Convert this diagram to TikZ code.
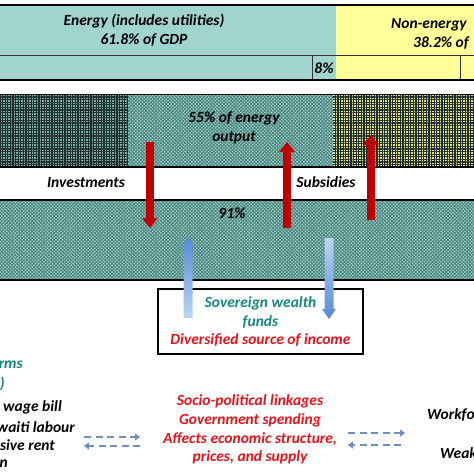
\documentclass[tikz,border=0pt]{standalone}
\usepackage{fontspec}
\setmainfont{Carlito}[BoldItalicFont={* Bold Italic}]
\usetikzlibrary{arrows.meta,positioning,patterns.meta}

\definecolor{energyteal}{HTML}{A2D4CF}
\definecolor{nonyellow}{HTML}{FFFF99}
\definecolor{gridteal}{HTML}{7FAFA9}
\definecolor{gridyellow}{HTML}{E6E28A}
\definecolor{checkteal}{HTML}{AAD8D2}
\definecolor{gridink}{HTML}{1E2C2B}
\definecolor{checkink}{HTML}{4A857F}
\definecolor{swfteal}{HTML}{17877C}
\definecolor{linkred}{HTML}{E3141C}
\definecolor{flowred}{HTML}{C00000}
\definecolor{lightblue}{HTML}{BCD5F4}
\definecolor{midblue}{HTML}{5689D4}
\definecolor{dashblue}{HTML}{6D8EC3}

\begin{document}
\begin{tikzpicture}[
    x=1pt, y=-1pt,
    lbl/.style={font=\fontsize{15.5}{18.8}\selectfont\bfseries\itshape, align=center, inner sep=0pt},
    gridfill/.style={preaction={fill=#1}, pattern={Hatch[angle=0,distance=2.6pt,line width=1.2pt]}, pattern color=gridink},
    checkfill/.style={preaction={fill=checkteal}, pattern={Hatch[angle=45,distance=2.4pt,line width=0.9pt]}, pattern color=checkink},
    redarrow/.style={draw=flowred, line width=7.5pt, -{Triangle[width=15pt,length=10pt]}},
    dashflow/.style={draw=dashblue, line width=2.2pt, dash pattern=on 7pt off 4.5pt, -{Triangle[width=7pt,length=5pt]}}
]
\useasboundingbox (0,0) rectangle (474,474);
\fill[white] (0,0) rectangle (474,474);

% GDP shares (top)
\fill[energyteal] (0,5) rectangle (336,80);
\fill[nonyellow] (336,5) rectangle (474,80);
\draw[line width=0.8pt, black!80] (0,55) -- (474,55);
\draw[line width=0.8pt, black!80] (312,55) -- (312,80);
\draw[line width=0.8pt, black!80] (460,55) -- (460,80);
\draw[line width=2pt] (0,5) -- (474,5);
\draw[line width=2.2pt] (0,80) -- (474,80);
\node[lbl] (energy) at (144,30) {Energy (includes utilities)\\61.8\% of GDP};
\node[lbl, anchor=west] (nonenergy) at (391,25) {Non-energy};
\node[lbl, anchor=west] (nonshare) at (413,43) {38.2\% of};
\node[lbl] (eight) at (324,68) {8\%};

% Output and flows (middle)
\path[gridfill=gridteal] (0,94) rectangle (128,167);
\path[checkfill] (128,94) rectangle (333,167);
\path[gridfill=gridyellow] (333,94) rectangle (474,167);
\path[checkfill] (0,200) rectangle (474,280);
\draw[line width=1pt] (0,94) -- (474,94);
\draw[line width=1.2pt] (0,167) -- (474,167);
\draw[line width=1.2pt] (0,200) -- (474,200);
\draw[line width=2pt] (0,280) -- (474,280);
\node[lbl] (output) at (234,127.5) {55\% of energy\\output};
\node[lbl] (invest) at (86,183) {Investments};
\node[lbl] (subsid) at (326,182) {Subsidies};
\node[lbl] (ninety) at (232,213) {91\%};

\coordinate (inv-top) at (150,142);
\coordinate (inv-bot) at (150,228);
\coordinate (sub-bot) at (287,228);
\coordinate (sub-top) at (287,142);
\coordinate (non-bot) at (371,220);
\coordinate (non-top) at (371,135);
\draw[redarrow] (inv-top) -- (inv-bot);
\draw[redarrow] (sub-bot) -- (sub-top);
\draw[redarrow] (non-bot) -- (non-top);

% Sovereign wealth funds
\node[lbl, draw, line width=1.2pt, fill=white, minimum width=205pt, minimum height=65pt] (swf) at (260.5,321.5)
  {\textcolor{swfteal}{Sovereign wealth}\\\textcolor{swfteal}{funds}\\\textcolor{linkred}{Diversified source of income}};

\coordinate (swf-in) at (188,318);
\coordinate (swf-out) at (329,238);
\shade[bottom color=lightblue, top color=midblue] (swf-in) ++(-4.5,0) -- ++(0,-71) -- ++(-2,0) -- ++(6.5,-10)
  -- ++(6.5,10) -- ++(-2,0) -- ++(0,71) -- cycle;
\shade[top color=lightblue, bottom color=midblue] (swf-out) ++(-4.5,0) -- ++(0,71) -- ++(-2.5,0) -- ++(7,10)
  -- ++(7,-10) -- ++(-2.5,0) -- ++(0,-71) -- cycle;

% Linkages (bottom)
\node[lbl, anchor=east, text=swfteal] (firms) at (23,365) {rms};
\node[lbl, anchor=east, text=swfteal] (firmsb) at (5,384) {)};
\node[lbl, anchor=east] (wage) at (62,407) {wage bill};
\node[lbl, anchor=east] (labour) at (75,427) {waiti labour};
\node[lbl, anchor=east] (rent) at (55,445) {sive rent};
\node[lbl, anchor=east] (lastn) at (8,464) {n};
\node[lbl, text=linkred] (links) at (250,429.5)
  {Socio-political linkages\\Government spending\\Affects economic structure,\\prices, and supply};
\node[lbl, anchor=west] (workforce) at (427,415) {Workfo};
\node[lbl, anchor=west] (weak) at (440,453) {Weak};

\coordinate (l-a) at (84,437);
\coordinate (l-b) at (140,437);
\coordinate (l-c) at (140,446);
\coordinate (l-d) at (84,446);
\coordinate (r-a) at (348,433);
\coordinate (r-b) at (405,433);
\coordinate (r-c) at (401,445);
\coordinate (r-d) at (348,445);
\draw[dashflow] (l-a) -- (l-b);
\draw[dashflow] (l-c) -- (l-d);
\draw[dashflow] (r-a) -- (r-b);
\draw[dashflow] (r-c) -- (r-d);

\end{tikzpicture}
\end{document}
